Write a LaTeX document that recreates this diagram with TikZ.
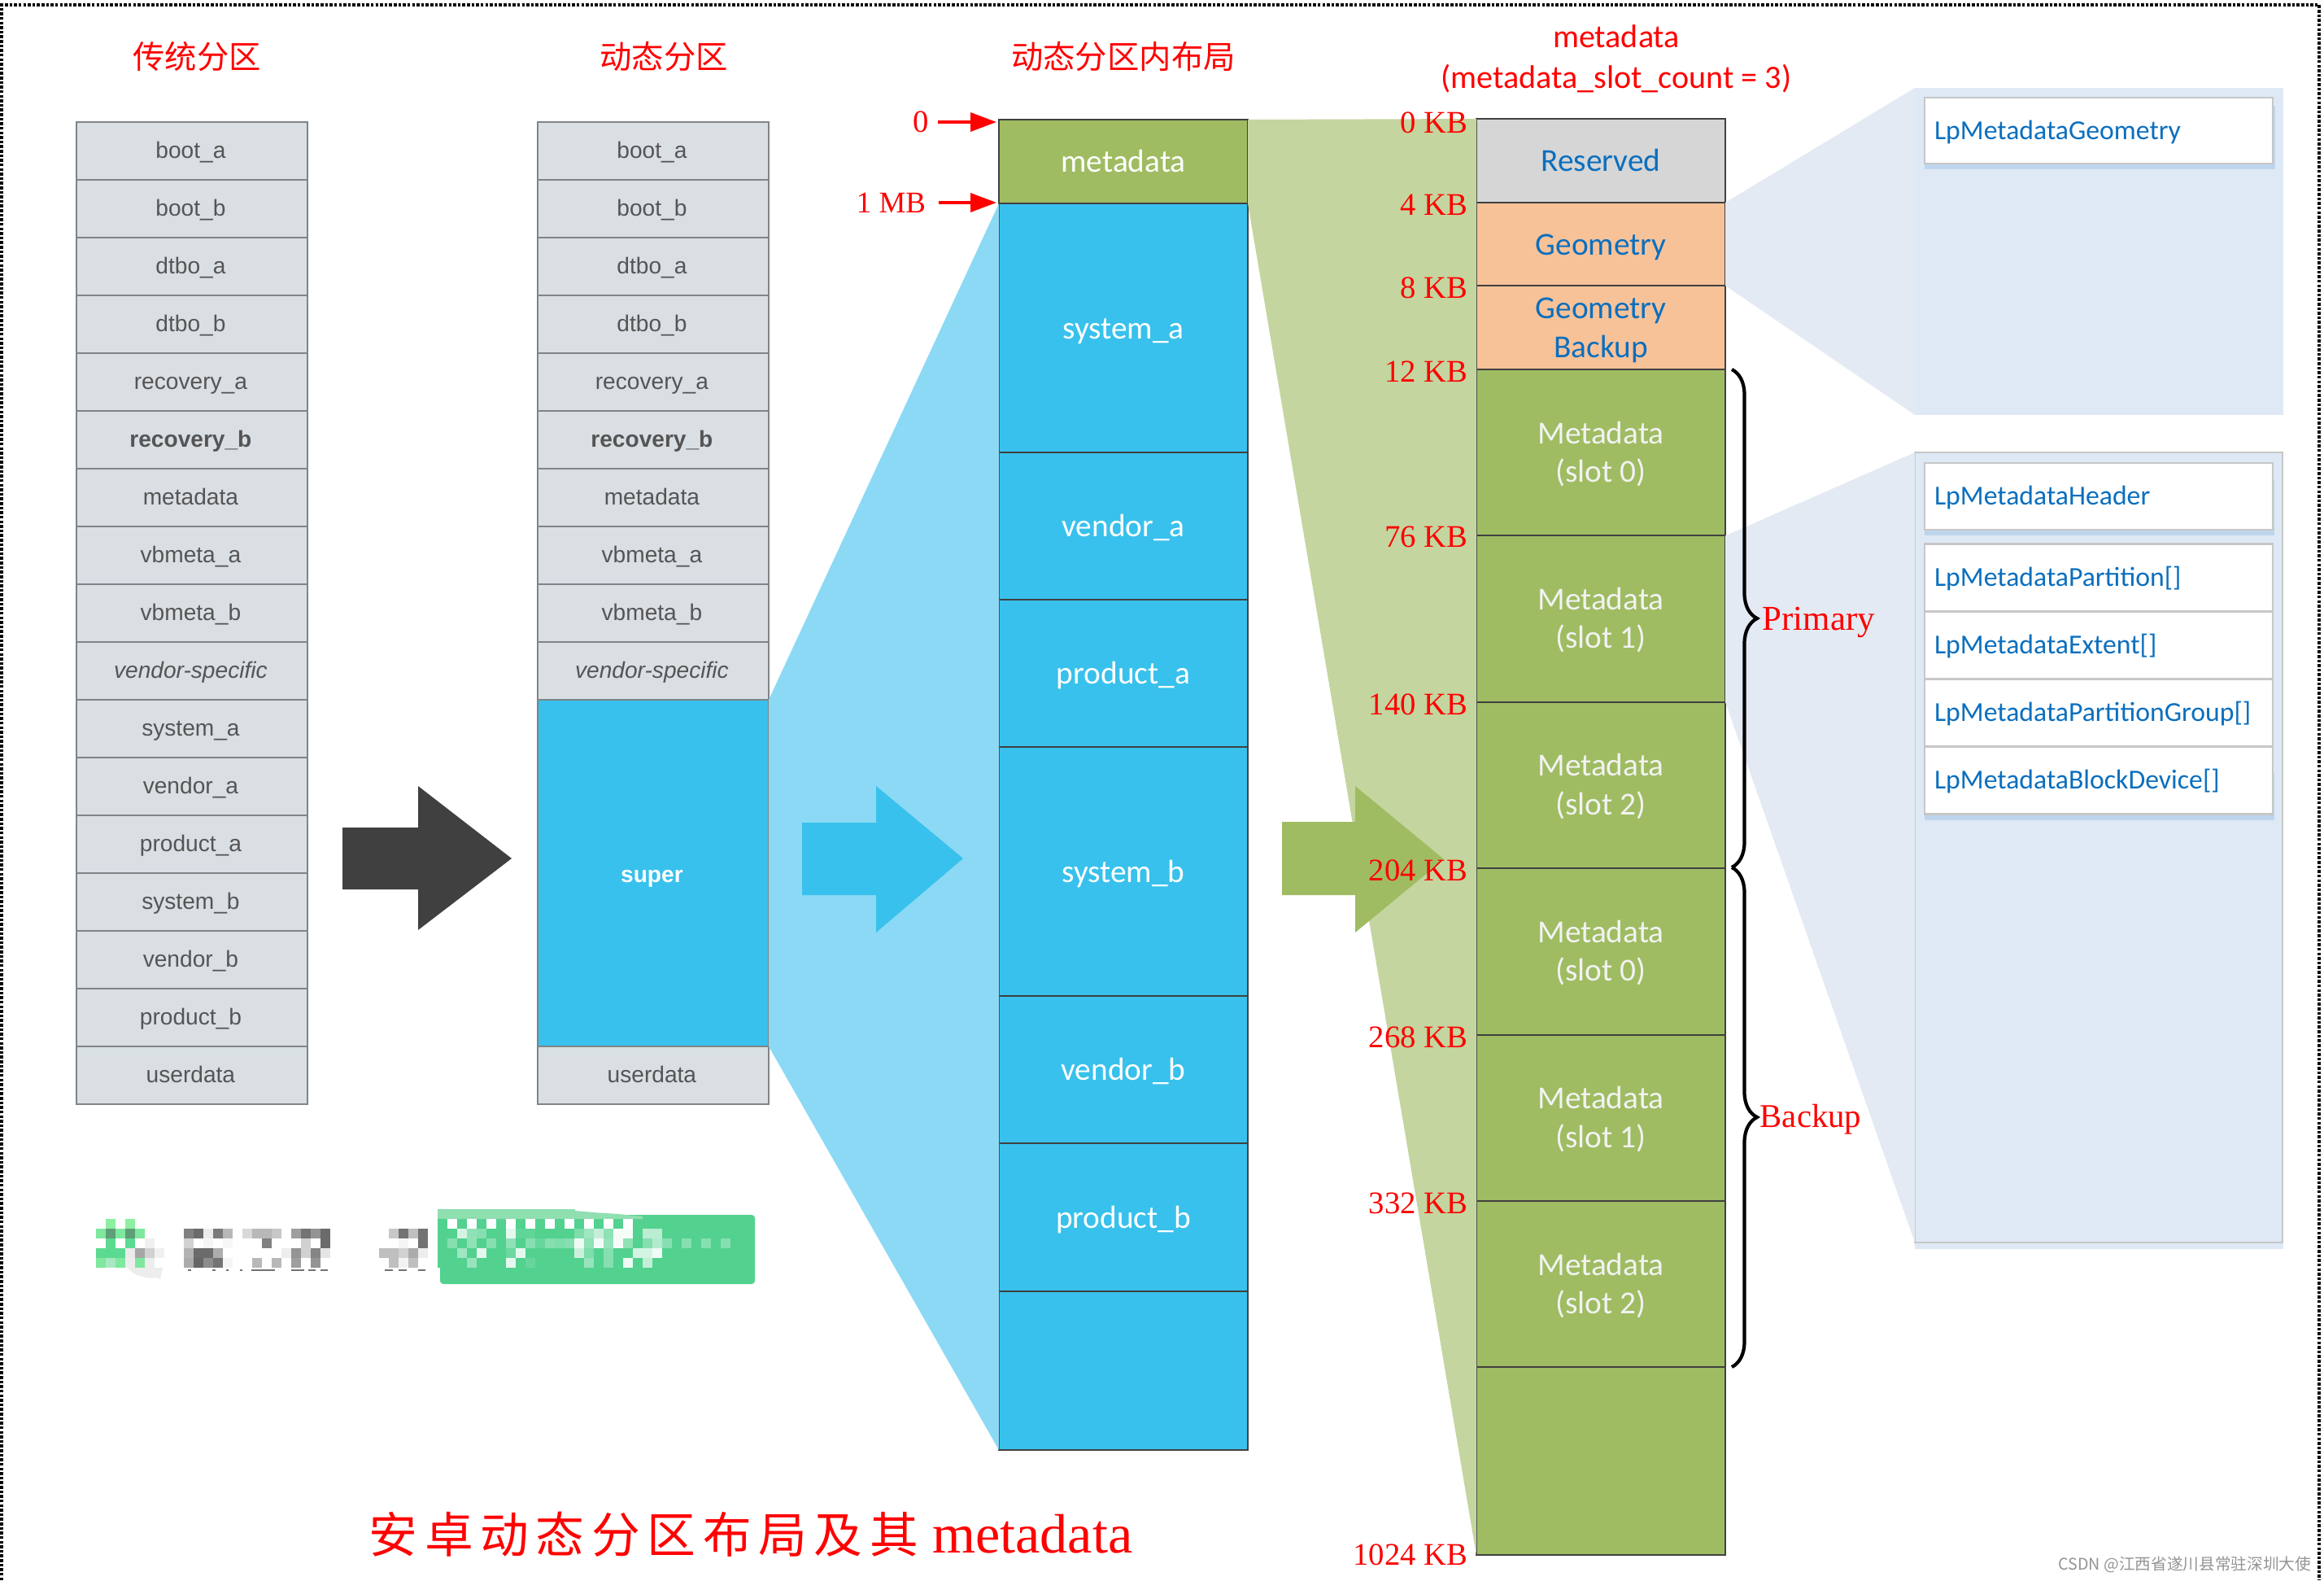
\documentclass[tikz,border=0pt]{standalone}
\usepackage{fontspec}
\setmainfont{Liberation Serif}
\newfontfamily\cjk{Noto Sans CJK SC}
\newfontfamily\cjktitle[LetterSpace=14.5]{Noto Sans CJK SC}
\newfontfamily\calibri{Carlito}
\newfontfamily\arialfont{Liberation Sans}
\usetikzlibrary{positioning,arrows.meta,decorations.pathreplacing}

\definecolor{rowfill}{HTML}{D9DFE3}
\definecolor{rowline}{HTML}{7F8487}
\definecolor{rowtext}{HTML}{555555}
\definecolor{superblue}{HTML}{38C1EC}
\definecolor{zoomblue}{HTML}{8BD9F5}
\definecolor{metagreen}{HTML}{9FBC62}
\definecolor{zoomgreen}{HTML}{C4D59F}
\definecolor{zoomgrey}{HTML}{E4EAF3}
\definecolor{panelblue}{HTML}{DEE9F5}
\definecolor{shadowblue}{HTML}{BDD5EC}
\definecolor{reservedgrey}{HTML}{D6D6D6}
\definecolor{geomorange}{HTML}{F8C299}
\definecolor{linkblue}{HTML}{0B6FBE}
\definecolor{darkarrow}{HTML}{404040}
\definecolor{boxgreen}{HTML}{52D18F}
\definecolor{bandgreen}{HTML}{8FDFB0}
\definecolor{iconA}{HTML}{8CF0A0}
\definecolor{iconB}{HTML}{7EE89E}
\definecolor{iconC}{HTML}{5CDA92}
\definecolor{iconD}{HTML}{5E9F78}
\definecolor{iconE}{HTML}{A8E8C0}

\tikzset{
  rowbox/.style={draw=rowline, line width=.8pt, fill=rowfill, text=rowtext, outer sep=0pt,
    minimum width=2.84cm, minimum height=.71cm, inner sep=0pt, text height=6.5pt, text depth=1.5pt,
    font=\arialfont\fontsize{8}{10}\selectfont},
  bluebox/.style={draw=black!75, line width=.6pt, fill=superblue, text=white, outer sep=0pt,
    minimum width=3.06cm, inner sep=0pt, text height=9.2pt, text depth=1.8pt,
    font=\calibri\fontsize{11.2}{13.5}\selectfont},
  metabox/.style={draw=black!75, line width=.6pt, fill=metagreen, text=white!95!black, outer sep=0pt,
    minimum width=3.06cm, inner sep=0pt, text depth=.6pt, align=center,
    font=\calibri\fontsize{11.2}{13.5}\selectfont},
  headerbox/.style={metabox, text=linkblue},
  heading/.style={text=red, font=\cjk\fontsize{11.2}{13}\selectfont},
  kblabel/.style={text=red, anchor=east, inner sep=0pt, font=\fontsize{11}{13}\selectfont},
  sidelabel/.style={text=red, anchor=west, inner sep=0pt, font=\fontsize{12.2}{14}\selectfont},
  structbox/.style={draw=black!22, line width=.6pt, fill=white, text=linkblue, outer sep=0pt,
    text width=4.04cm, inner xsep=.12cm, inner ysep=0pt, minimum height=.83cm, align=left,
    text height=8pt, text depth=2pt, font=\calibri\fontsize{9.6}{11}\selectfont},
  redarrow/.style={draw=red, line width=1pt, -{Triangle[length=.32cm,width=.23cm]}},
  bigbrace/.style={draw=black, line width=1.2pt, decorate, decoration={brace,amplitude=.31cm}}
}

\begin{document}
\begin{tikzpicture}
    \useasboundingbox (0,0) rectangle (28.57,-19.42);

    % Dotted frame
    \draw[line width=1pt, dash pattern=on 1pt off .6pt] (.02,-19.42) -- (.02,-.06) -- (28.51,-.06) -- (28.51,-19.42);

    % Headings
    \node[heading] (headold) at (2.42,-.7) {传统分区};
    \node[heading] (headdyn) at (8.16,-.7) {动态分区};
    \node[heading] (headlay) at (13.81,-.7) {动态分区内布局};
    \node[heading, font=\calibri\fontsize{11.4}{13}\selectfont, align=center] (headmeta) at (19.87,-.72)
        {metadata\\[1.2pt](metadata\_slot\_count = 3)};

    % Legacy partitions
    \foreach \i/\name in {0/boot\_a,1/boot\_b,2/dtbo\_a,3/dtbo\_b,4/recovery\_a,5/{\textbf{recovery\_b}},
        6/metadata,7/vbmeta\_a,8/vbmeta\_b,9/{\textit{vendor-specific}},10/system\_a,11/vendor\_a,
        12/product\_a,13/system\_b,14/vendor\_b,15/product\_b,16/userdata}
        \node[rowbox] (old\i) at (2.36,-1.855-.71*\i) {\name\kern.9pt};

    % Dynamic partitions
    \foreach \i/\name in {0/boot\_a,1/boot\_b,2/dtbo\_a,3/dtbo\_b,4/recovery\_a,5/{\textbf{recovery\_b}},
        6/metadata,7/vbmeta\_a,8/vbmeta\_b,9/{\textit{vendor-specific}}}
        \node[rowbox] (dyn\i) at (8.03,-1.855-.71*\i) {\name\kern.9pt};
    \node[rowbox, fill=superblue, text=white, minimum height=4.26cm, below=0cm of dyn9, text height=8pt, text depth=1.5pt,
        font=\arialfont\bfseries\fontsize{8}{10}\selectfont] (super) {super\kern.9pt};
    \node[rowbox, below=0cm of super] (dynuser) {userdata\kern.9pt};

    % Layout inside super
    \node[bluebox, fill=metagreen, minimum height=1.03cm] (lmeta) at (13.81,-1.985) {metadata};
    \node[bluebox, minimum height=3.06cm, below=0cm of lmeta] (lsysa) {system\_a};
    \node[bluebox, minimum height=1.81cm, below=0cm of lsysa] (lvena) {vendor\_a};
    \node[bluebox, minimum height=1.81cm, below=0cm of lvena] (lproa) {product\_a};
    \node[bluebox, minimum height=3.06cm, below=0cm of lproa] (lsysb) {system\_b};
    \node[bluebox, minimum height=1.81cm, below=0cm of lsysb] (lvenb) {vendor\_b};
    \node[bluebox, minimum height=1.82cm, below=0cm of lvenb] (lprob) {product\_b};
    \node[bluebox, minimum height=1.95cm, below=0cm of lprob] (lfree) {};

    % Metadata layout
    \node[headerbox, fill=reservedgrey, minimum height=1.03cm, text height=9.4pt, text depth=1.8pt] (reserved) at (19.68,-1.975) {Reserved};
    \node[headerbox, fill=geomorange, minimum height=1.02cm, text height=9.4pt, text depth=1.8pt, below=0cm of reserved] (geom) {Geometry};
    \node[headerbox, fill=geomorange, minimum height=1.03cm, text depth=0pt, below=0cm of geom] (geomback) {Geometry\\[.3pt]Backup};
    \node[metabox, minimum height=2.044cm, below=0cm of geomback] (slot1) {Metadata\\(slot 0)};
    \node[metabox, minimum height=2.044cm, below=0cm of slot1] (slot2) {Metadata\\(slot 1)};
    \node[metabox, minimum height=2.044cm, below=0cm of slot2] (slot3) {Metadata\\(slot 2)};
    \node[metabox, minimum height=2.044cm, below=0cm of slot3] (slot4) {Metadata\\(slot 0)};
    \node[metabox, minimum height=2.044cm, below=0cm of slot4] (slot5) {Metadata\\(slot 1)};
    \node[metabox, minimum height=2.044cm, below=0cm of slot5] (slot6) {Metadata\\(slot 2)};
    \node[metabox, minimum height=2.31cm, below=0cm of slot6] (slotfree) {};

    % Struct panels
    \fill[panelblue] (23.54,-1.08) rectangle (28.07,-5.1);
    \fill[panelblue] (23.54,-5.56) rectangle (28.07,-15.35);
    \draw[black!22, line width=.6pt, fill=panelblue] (23.54,-5.56) rectangle (28.06,-15.27);
    \fill[shadowblue] (23.66,-1.3) rectangle (27.97,-2.08);
    \fill[shadowblue] (23.66,-5.9) rectangle (27.96,-6.58);
    \fill[shadowblue] (23.66,-9.5) rectangle (27.96,-10.08);
    \node[structbox, minimum height=.81cm] (sgeom) at (25.8,-1.605) {LpMetadataGeometry};
    \node[structbox, minimum height=.82cm] (shead) at (25.8,-6.1) {LpMetadataHeader};
    \node[structbox] (spart) at (25.8,-7.1) {LpMetadataPartition[]};
    \node[structbox, below=0cm of spart] (sext) {LpMetadataExtent[]};
    \node[structbox, below=0cm of sext] (sgroup) {LpMetadataPartitionGroup[]};
    \node[structbox, below=0cm of sgroup] (sblock) {LpMetadataBlockDevice[]};

    % Zoom wedges
    \fill[zoomblue] (super.north east) -- (lsysa.north west) -- (lfree.south west) -- (super.south east) -- cycle;
    \fill[zoomgreen] (lmeta.north east) -- (reserved.north west) -- (slotfree.south west) -- (lmeta.south east) -- cycle;
    \fill[zoomgrey] (geom.north east) -- (23.54,-1.08) -- (23.54,-5.1) -- (geom.south east) -- cycle;
    \fill[zoomgrey] (slot2.north east) -- (23.54,-5.56) -- (23.54,-15.27) -- (slot2.south east) -- cycle;

    % Block arrows
    \fill[darkarrow] (4.21,-10.17) -- (5.14,-10.17) -- (5.14,-9.66) -- (6.29,-10.55) -- (5.14,-11.43) -- (5.14,-10.93) -- (4.21,-10.93) -- cycle;
    \fill[superblue] (9.86,-10.11) -- (10.77,-10.11) -- (10.77,-9.66) -- (11.84,-10.55) -- (10.77,-11.46) -- (10.77,-11) -- (9.86,-11) -- cycle;
    \fill[metagreen] (15.76,-10.1) -- (16.66,-10.1) -- (16.66,-9.66) -- (17.75,-10.56) -- (16.66,-11.46) -- (16.66,-11) -- (15.76,-11) -- cycle;

    % Offsets of super
    \node[kblabel, anchor=center, inner sep=.11cm] (zero) at (11.32,-1.5) {0};
    \node[kblabel, anchor=center, inner sep=.15cm, font=\fontsize{10.5}{13}\selectfont] (onemb) at (10.955,-2.49) {1 MB};
    \coordinate (zerotip) at (12.25,-1.5);
    \coordinate (onembtip) at (12.25,-2.49);
    \draw[redarrow] (zero) -- (zerotip);
    \draw[redarrow] (onemb) -- (onembtip);

    % Offsets of metadata
    \foreach \y/\name [count=\i] in {1.505/0 KB,2.515/4 KB,3.535/8 KB,4.565/12 KB,6.6/76 KB,8.655/140 KB,
        10.695/204 KB,12.745/268 KB,14.785/332 KB,19.105/1024 KB}
        \node[kblabel] (kb\i) at (18.05,-\y) {\name};

    % Braces
    \coordinate (pritop) at (21.29,-4.54);
    \coordinate (prisplit) at (21.29,-10.66);
    \coordinate (backbot) at (21.29,-16.8);
    \draw[bigbrace] (pritop) -- (prisplit);
    \draw[bigbrace] (prisplit) -- (backbot);
    \node[sidelabel] (primary) at (21.66,-7.65) {Primary};
    \node[sidelabel, font=\fontsize{11.6}{14}\selectfont] (backup) at (21.63,-13.76) {Backup};

    % Mosaic
    \fill[boxgreen, rounded corners=.4mm] (5.41,-14.93) rectangle (9.28,-15.78);
    \fill[bandgreen] (5.38,-14.86) -- (7.07,-14.86) -- (7.07,-14.88) -- (7.3,-14.9) -- (7.6,-14.92) -- (7.9,-14.95) -- (7.9,-14.98) -- (5.38,-14.98) -- cycle;
    \fill[boxgreen] (5.38,-14.98) rectangle (5.5,-15.58);
    \fill[black!7] (1.57,-15.58) .. controls (1.65,-15.7) and (1.85,-15.72) .. (1.93,-15.7) -- (1.97,-15.72) -- (2,-15.58) -- cycle;
    \begin{scope}[shift={(1.183,-14.983)}, x=.12cm, y=-.12cm]
        \foreach \i/\j/\name in {1/0/iconA,3/0/iconA,0/1/iconB,1/1/iconD,2/1/iconB,3/1/iconD,4/1/iconB,
            1/2/iconC,3/2/iconC,0/3/iconC,1/3/iconC,2/3/iconC,0/4/iconB,1/4/iconE,2/4/iconB,4/4/iconB}
            \fill[\name] (\i,\j) rectangle +(1,1);
        \foreach \i/\j/\k in {5/2/6,3/3/8,4/3/35,5/3/18,6/3/6,3/4/7,5/4/7,
            9/1/50,10/1/58,11/1/8,12/1/52,13/1/28,9/2/18,11/2/4,13/2/3,9/3/30,10/3/58,11/3/58,12/3/32,
            9/4/33,10/4/60,11/4/45,12/4/55,13/4/4,15/1/15,16/1/28,17/1/28,18/1/22,17/2/50,16/4/28,18/4/28,
            20/1/38,21/1/55,22/1/42,23/1/58,21/2/18,23/2/58,19/3/7,20/3/42,21/3/18,22/3/48,23/3/10,20/4/38,22/4/42,
            30/1/22,31/1/55,32/1/25,33/1/55,31/2/4,33/2/55,29/3/25,30/3/25,31/3/18,32/3/33,33/3/7,30/4/25,31/4/5,32/4/25}
            \fill[black!\k] (\i,\j) rectangle +(1,1);
        % stray dark marks under the blocks
        \foreach \i/\w in {9.4/.3,11.9/.3,13.3/.3,14.7/.3,15.9/2.4,20/1.3,21.7/.8,23/.7,29.6/.8,31/.8,33/.7}
            \fill[black!55] (\i,5.1) rectangle +(\w,.18);
        \foreach \i in {36,38,...,54}
            \fill[white] (\i,0) rectangle +(1,1);
        \foreach \i/\j/\k in {37/1/75,38/1/35,39/1/30,42/1/85,43/1/8,44/1/8,49/1/25,50/1/45,51/1/65,52/1/35,53/1/95,54/1/95,56/1/60,57/1/60,
            36/2/30,38/2/35,40/2/30,42/2/35,44/2/30,45/2/12,46/2/30,47/2/25,48/2/30,49/2/90,50/2/35,51/2/92,52/2/40,53/2/95,54/2/35,
            56/2/30,57/2/55,58/2/30,60/2/30,62/2/30,64/2/30,
            37/3/45,39/3/85,42/3/15,43/3/85,49/3/70,50/3/25,52/3/30,55/3/75,56/3/75,57/3/92,
            38/4/40,42/4/85,44/4/12,50/4/40,52/4/30,54/4/90,56/4/65}
            \fill[white!\k!boxgreen] (\i,\j) rectangle +(1,1);
    \end{scope}

    % Caption and mark
    \node[text=red, anchor=west, inner sep=0pt, font=\fontsize{19.4}{22}\selectfont] (caption) at (4.53,-18.86)
        {{\cjktitle\fontsize{17}{20}\selectfont 安卓动态分区布局及其} metadata};
    \node[text=black!42, anchor=east, inner sep=0pt, font=\cjk\fontsize{5.6}{8}\selectfont] (mark) at (28.42,-19.23)
        {CSDN @江西省遂川县常驻深圳大使};
\end{tikzpicture}
\end{document}
